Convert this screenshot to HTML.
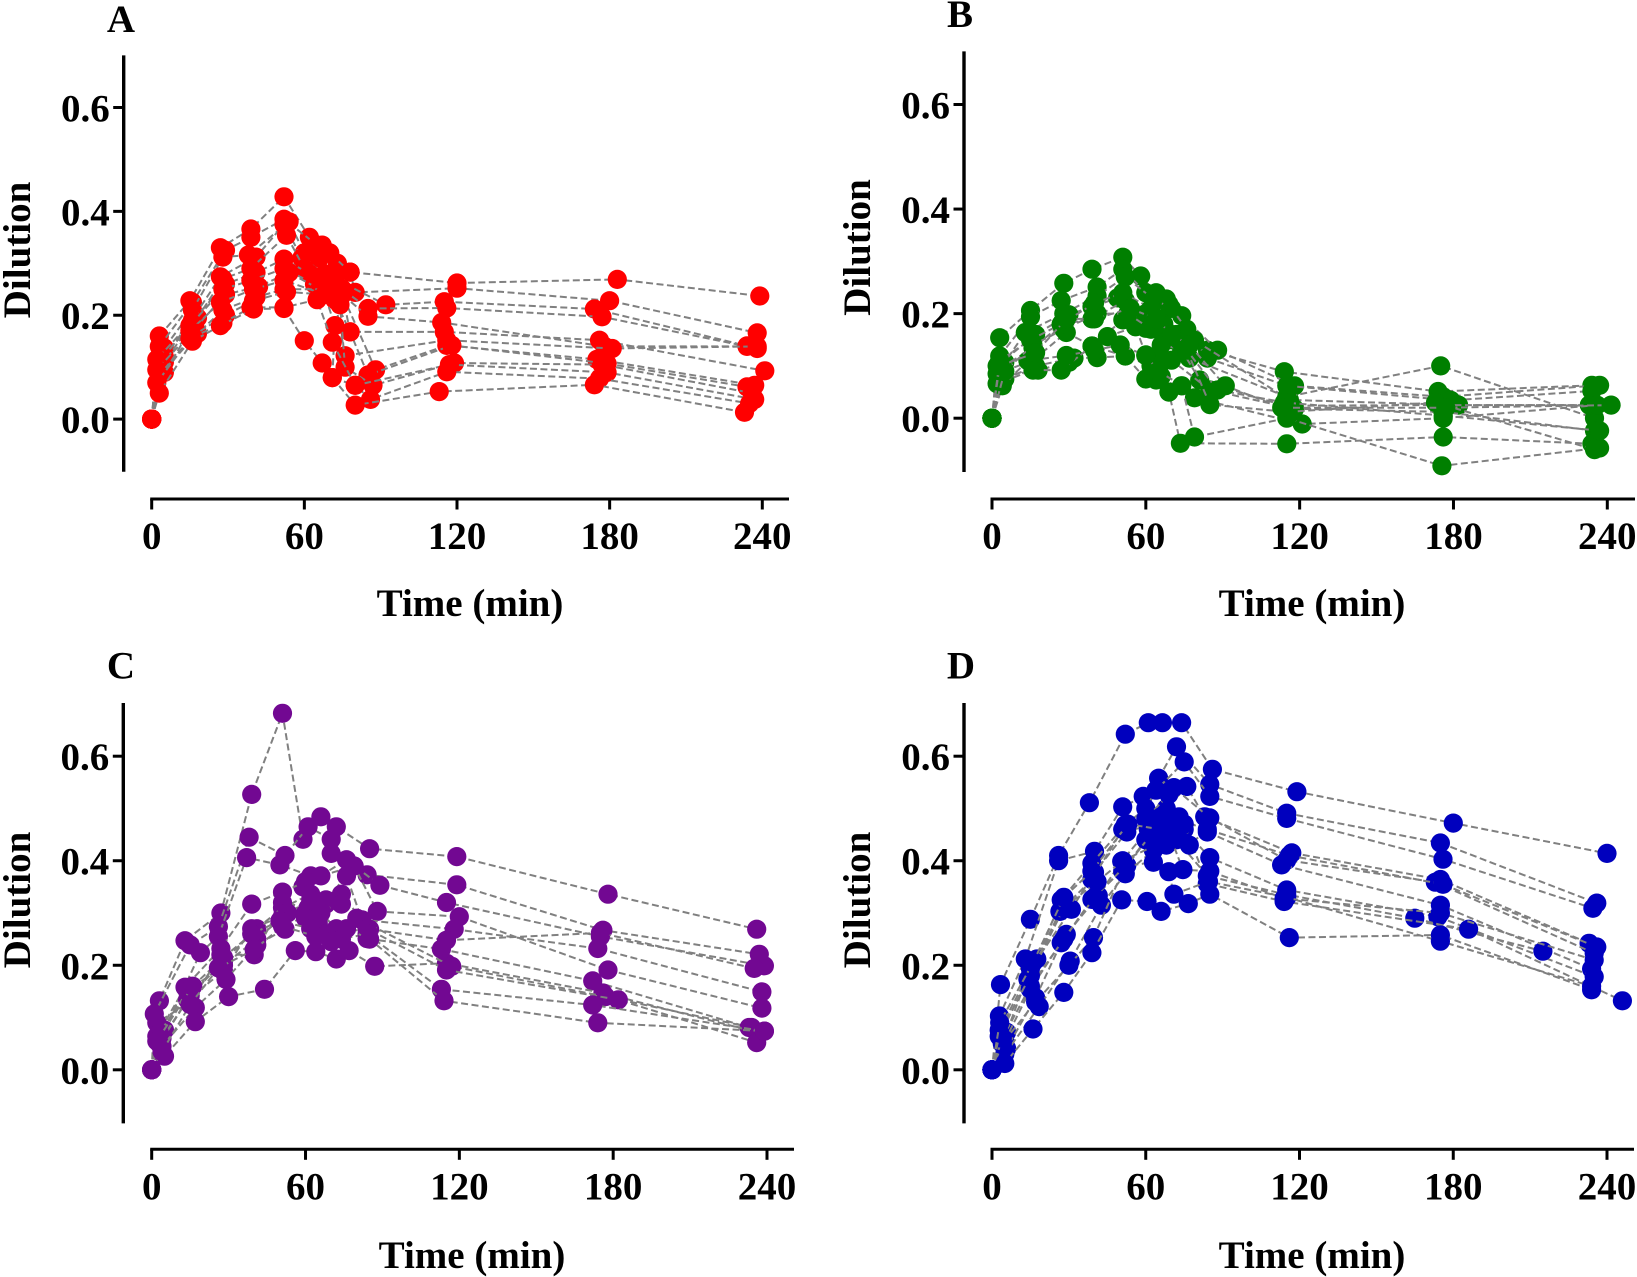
<!DOCTYPE html>
<html lang="en">
<head>
<meta charset="utf-8">
<title>Dilution over time</title>
<style>
html,body{margin:0;padding:0;background:#fff;}
svg{display:block;}
text{font-family:"Liberation Serif",serif;font-weight:bold;font-size:39px;fill:#000;}
</style>
</head>
<body>
<svg id="figure" width="1637" height="1277" viewBox="0 0 1637 1277" xmlns="http://www.w3.org/2000/svg">
  <rect width="1637" height="1277" fill="#fff"/>
  <g id="panel-a">
    <text x="121" y="32" text-anchor="middle">A</text>
    <text transform="translate(30 250) rotate(-90)" text-anchor="middle">Dilution</text>
    <text x="470" y="616" text-anchor="middle">Time (min)</text>
  </g>
  <g id="panel-b">
    <text x="960" y="27" text-anchor="middle">B</text>
    <text transform="translate(870 247.5) rotate(-90)" text-anchor="middle">Dilution</text>
    <text x="1312" y="616" text-anchor="middle">Time (min)</text>
  </g>
  <g id="panel-c">
    <text x="121" y="678.5" text-anchor="middle">C</text>
    <text transform="translate(30 900) rotate(-90)" text-anchor="middle">Dilution</text>
    <text x="472" y="1268" text-anchor="middle">Time (min)</text>
  </g>
  <g id="panel-d">
    <text x="961" y="678.5" text-anchor="middle">D</text>
    <text transform="translate(870 900) rotate(-90)" text-anchor="middle">Dilution</text>
    <text x="1312" y="1268" text-anchor="middle">Time (min)</text>
  </g>
</svg>
<script>
const xTickValues = [0, 60, 120, 180, 240];
const yTickValues = [0, 0.2, 0.4, 0.6];

const timesA = [
[0,3,15,27,39,52,62,67,73,78,120,183,239],
[0,3,16,29,39,52,65,70,78,80,120,180,238],
[0,5,16,28,38,54,60,66,72,92,115,174,234],
[0,5,17,27,41,52,59,68,75,85,116,177,238],
[0,4,18,28,39,53,60,66,70,85,114,178,234],
[0,2,16,29,41,52,62,68,75,78,115,176,241],
[0,5,15,28,39,52,64,70,72,76,116,181,238],
[0,2,17,29,42,54,66,70,74,88,116,175,237],
[0,5,15,27,40,52,68,72,78,85,118,179,234],
[0,4,18,28,41,52,72,74,76,87,119,177,236],
[0,3,16,29,40,53,68,72,71,80,117,179,237],
[0,2,15,28,39,52,65,71,80,86,116,176,235],
[0,3,16,27,40,52,60,67,71,80,113,174,233]
];
const dilutionA = [
[0,.16,.228,.33,.366,.428,.35,.335,.30,.283,.262,.269,.237],
[0,.14,.225,.325,.35,.385,.335,.32,.283,.244,.252,.228,.166],
[0,.137,.21,.312,.316,.38,.32,.31,.27,.22,.226,.212,.141],
[0,.12,.2,.274,.312,.375,.31,.28,.25,.213,.214,.197,.136],
[0,.118,.195,.27,.29,.354,.29,.27,.26,.198,.186,.14,.14],
[0,.115,.19,.26,.282,.308,.28,.26,.24,.168,.168,.152,.093],
[0,.11,.18,.25,.267,.29,.26,.25,.23,.122,.152,.136,.14],
[0,.095,.175,.24,.255,.282,.25,.245,.25,.095,.142,.115,.065],
[0,.09,.17,.225,.25,.267,.24,.23,.168,.085,.142,.107,.062],
[0,.09,.165,.21,.235,.25,.25,.22,.1,.065,.108,.105,.05],
[0,.085,.16,.2,.228,.245,.24,.18,.08,.065,.105,.09,.038],
[0,.07,.155,.185,.215,.215,.23,.148,.065,.038,.091,.078,.03],
[0,.05,.15,.18,.212,.213,.151,.108,.08,.027,.053,.066,.013]
];

const timesB = [
[0,3,15,28,39,51,58,64,69,84,114,174,234],
[0,3,15,27,41,51,60,68,74,88,118,176,237],
[0,5,13,28,41,52,63,70,76,84,115,179,234],
[0,2,17,30,39,49,60,66,72,79,116,182,233],
[0,3,16,27,39,52,56,63,70,77,115,175,235],
[0,2,16,29,39,51,60,67,74,81,114,174,233],
[0,4,18,30,45,56,60,66,70,85,118,176,235],
[0,5,17,32,41,52,60,64,74,79,121,176,236],
[0,2,16,27,39,52,62,66,69,73.5,115,176,234],
[0,4,14,29,40,50,60,65,74,79,115,175.5,237],
[0,5,16,28,41,53,62,66,76,85,115,173,235],
[0,3,15,27,40,51,62,67,73,88,114,176,237],
[0,3,17,29,40,54,64,70,77,91,113,177,241.5]
];
const dilutionB = [
[0,.154,.206,.258,.285,.308,.272,.24,.218,.13,.089,.051,.063],
[0,.119,.194,.225,.251,.285,.24,.228,.196,.13,.062,.041,.063],
[0,.107,.164,.2,.234,.27,.228,.21,.17,.115,.062,.034,.052],
[0,.1,.16,.198,.213,.23,.2,.19,.16,.149,.035,.025,.025],
[0,.095,.134,.179,.19,.225,.175,.18,.15,.115,.041,.1,0],
[0,.085,.111,.164,.138,.188,.172,.16,.13,.073,.024,.025,.025],
[0,.08,.092,.107,.156,.175,.121,.115,.111,.054,.018,.012,-.024],
[0,.075,.1,.115,.116,.119,.075,.073,.062,.039,-.011,0,.025],
[0,.066,.092,.092,.138,.119,.1,.08,.05,-.048,-.049,-.036,-.049],
[0,.062,.11,.12,.13,.14,.12,.09,.062,-.036,0,-.091,-.057],
[0,.09,.14,.17,.2,.2,.17,.14,.13,.026,.012,.03,-.06],
[0,.11,.15,.18,.22,.24,.21,.18,.149,.054,.03,.005,-.024],
[0,.1,.125,.19,.19,.21,.19,.16,.14,.062,.02,.02,.025]
];

const timesC = [
[0,3,13,27,39,51,59,66,72,85,119,178,236],
[0,1,15,26,38,52,61,70,70,84,119,176,237],
[0,5,19,26,37,50,62,59,76,89,115,175,239],
[0,2,13,27,39,51,60,66,79,88,120,178,238],
[0,4,15,28,41,51,62,68,76,82,118,174,238],
[0,3,14,28,39,51,62,68,74,85,115,175,235],
[0,4,17,29,41,52,60,66,74,84,113,172,233],
[0,5,17,30,44,56,64,72,77,87,115,176,236],
[0,2,15,27,40,51,61,66,72,80,117,177,234],
[0,3,14,28,41,53,60,65,70,84,115,182,236],
[0,2,16,28,39,50,62,68,74,84,113,172,239],
[0,4,15,26,40,51,64,70,76,85,114,174,239]
];
const dilutionC = [
[0,.132,.247,.3,.527,.682,.441,.484,.465,.423,.408,.336,.269],
[0,.107,.239,.274,.445,.41,.465,.441,.414,.373,.354,.267,.221],
[0,.076,.224,.255,.406,.392,.371,.35,.402,.353,.32,.255,.199],
[0,.064,.158,.232,.317,.34,.36,.371,.39,.303,.293,.191,.118],
[0,.06,.142,.208,.27,.31,.336,.325,.371,.287,.269,.232,.149],
[0,.05,.134,.189,.27,.294,.325,.317,.336,.269,.248,.262,.194],
[0,.045,.119,.173,.239,.269,.3,.305,.317,.251,.231,.17,.081],
[0,.026,.092,.14,.154,.228,.226,.212,.228,.198,.204,.147,.072],
[0,.09,.13,.22,.22,.32,.31,.3,.27,.29,.198,.14,.081],
[0,.07,.15,.2,.25,.3,.29,.28,.26,.27,.191,.134,.052],
[0,.055,.16,.215,.26,.285,.27,.26,.25,.26,.154,.124,.074],
[0,.035,.125,.195,.23,.275,.255,.245,.27,.25,.132,.09,.074]
];

const timesD = [
[0,3.3,15,26,38,52,61,66.5,74,86,119,180,240],
[0,2.9,13,26,40,51,59,65,72,85,115,175,236],
[0,2.8,17.5,27,39,52,60,64,75,85,115,176,234.5],
[0,5.7,15,31,40,52.6,62,68,76,83,117,175,233],
[0,2.8,14,26.5,39,51,60,69,71,85,115,173,235],
[0,5,15,29,41.5,50.6,61,66,73,84,113,175,234],
[0,5.7,17,27,39,52.6,60,68,75,85,115,174,235],
[0,5,18.4,30.5,42.7,52,63,67,72,84,115,165,215],
[0,4,17,30,39.6,51,62,68,75,84,114,186,246],
[0,5,16,28,39,50.6,60.5,66,76.6,85,116,175,234],
[0,4,15,28,40,52,63,69,71,84.5,115,175,234],
[0,3,15,28,41,51,64,70,74.5,85,114,175,235],
[0,3,16,28,39,53,66,71,77,84,116,176,236]
];
const dilutionD = [
[0,.163,.288,.41,.511,.642,.664,.664,.664,.575,.532,.472,.414],
[0,.103,.212,.4,.418,.503,.523,.558,.618,.546,.491,.434,.319],
[0,.076,.212,.325,.395,.469,.5,.535,.589,.523,.481,.403,.309],
[0,.072,.193,.307,.378,.455,.47,.5,.542,.484,.415,.364,.242],
[0,.064,.173,.303,.364,.46,.48,.527,.54,.482,.401,.359,.223],
[0,.055,.154,.259,.333,.399,.46,.484,.484,.455,.392,.315,.193],
[0,.041,.138,.243,.326,.391,.44,.47,.46,.406,.344,.293,.178],
[0,.03,.121,.208,.315,.375,.42,.45,.44,.371,.335,.29,.227],
[0,.05,.13,.2,.253,.38,.45,.43,.47,.356,.322,.269,.132],
[0,.012,.078,.148,.224,.325,.322,.303,.318,.336,.253,.258,.153],
[0,.06,.16,.25,.33,.39,.397,.379,.336,.36,.33,.246,.16],
[0,.07,.18,.31,.36,.4,.43,.44,.383,.38,.328,.3,.21],
[0,.09,.205,.33,.38,.47,.46,.45,.43,.46,.41,.355,.235]
];

const svgNS = 'http://www.w3.org/2000/svg';

function makeSvg(tag, attrs, parent) {
  const el = document.createElementNS(svgNS, tag);
  for (const k in attrs) el.setAttribute(k, attrs[k]);
  parent.appendChild(el);
  return el;
}

function drawPanel(panelId, times, values, color, geo) {
  const group = document.getElementById(panelId);
  const xScale = function (t) { return geo.x0 + (t / 240) * (geo.x240 - geo.x0); };
  const yScale = function (v) { return geo.y0 + (v / 0.6) * (geo.y06 - geo.y0); };

  const yAxis = makeSvg('line', {x1: geo.yAxisX, x2: geo.yAxisX, y1: geo.yTop, y2: geo.yBottom, stroke: '#000', 'stroke-width': 3.4}, group);
  
  

  yTickValues.forEach(function (v) {
    const y = yScale(v);
    const tick = makeSvg('line', {x1: geo.yAxisX - 10.5, x2: geo.yAxisX, y1: y, y2: y, stroke: '#000', 'stroke-width': 3}, group);
    
    
    const label = makeSvg('text', {x: geo.yAxisX - 14, y: y + 14, 'text-anchor': 'end'}, group);
    label.textContent = v.toFixed(1);
    
    
  });

  const xAxis = makeSvg('line', {x1: geo.x0 - 1.5, x2: geo.xEnd, y1: geo.xAxisY, y2: geo.xAxisY, stroke: '#000', 'stroke-width': 3}, group);
  
  

  xTickValues.forEach(function (t) {
    const x = xScale(t);
    const tick = makeSvg('line', {x1: x, x2: x, y1: geo.xAxisY, y2: geo.xAxisY + 10.5, stroke: '#000', 'stroke-width': 3}, group);
    
    
    const label = makeSvg('text', {x: x, y: geo.xAxisY + 50, 'text-anchor': 'middle'}, group);
    label.textContent = String(t);
    
    
  });

  times.forEach(function (row, i) {
    const pts = row.map(function (t, j) { return xScale(t).toFixed(1) + ',' + yScale(values[i][j]).toFixed(1); }).join(' ');
    const line = makeSvg('polyline', {points: pts, fill: 'none', stroke: '#808080', 'stroke-width': 2, 'stroke-dasharray': '7 3.5'}, group);
    
    
    row.forEach(function (t, j) {
      const dot = makeSvg('circle', {cx: xScale(t).toFixed(1), cy: yScale(values[i][j]).toFixed(1), r: 9.6, fill: color}, group);
      
      
    });
  });
}

drawPanel('panel-a', timesA, dilutionA, '#ff0000', {x0: 151.7, x240: 762.3, y0: 419.1, y06: 107.5, yAxisX: 123.7, yTop: 55.4, yBottom: 471.7, xAxisY: 499, xEnd: 789});
drawPanel('panel-b', timesB, dilutionB, '#007f00', {x0: 992, x240: 1607.3, y0: 418.2, y06: 104.5, yAxisX: 964, yTop: 51.4, yBottom: 472, xAxisY: 499, xEnd: 1635});
drawPanel('panel-c', timesC, dilutionC, '#720892', {x0: 151.7, x240: 767, y0: 1069.8, y06: 756.2, yAxisX: 123.3, yTop: 703, yBottom: 1123.4, xAxisY: 1149.3, xEnd: 794});
drawPanel('panel-d', timesD, dilutionD, '#0000be', {x0: 992, x240: 1607, y0: 1069.8, y06: 756.2, yAxisX: 964, yTop: 703, yBottom: 1123.4, xAxisY: 1149.3, xEnd: 1634});
</script>
</body>
</html>
